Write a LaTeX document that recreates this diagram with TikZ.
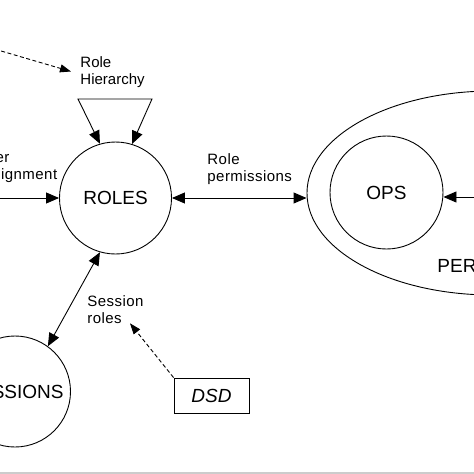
\documentclass[tikz,border=0pt]{standalone}
\usepackage{fontspec}
\setmainfont{Liberation Sans}
\usetikzlibrary{arrows.meta,shapes.geometric}
\begin{document}
\begin{tikzpicture}[x=1pt,y=-1pt,
  line width=0.9pt,
  tip/.style={-{Triangle[length=13pt,width=11pt]}},
  dtip/.style={{Triangle[length=13pt,width=11pt]}-{Triangle[length=13pt,width=11pt]}},
  dashtip/.style={dash pattern=on 4pt off 2.5pt, -{Triangle[length=11pt,width=8pt]}},
  big/.style={font=\fontsize{19}{22}\selectfont},
  lbl/.style={font=\fontsize{15}{17}\selectfont, align=left, anchor=north west, inner sep=0pt},
  wide/.style={font=\fontsize{15}{17}\selectfont\addfontfeature{LetterSpace=3}},
  ring/.style={draw, circle, minimum size=112pt, inner sep=0pt, big},
]
\useasboundingbox (0,0) rectangle (474,474);
\clip (0,0) rectangle (474,474);
\fill[gray!40] (0,472) rectangle (474,474);

\node[ring] (roles) at (115.5,198) {ROLES};
\node[ring, minimum size=113pt] (ops) at (386.5,192.5) {OPS};
\node[ring, minimum size=111pt] (sessions) at (15,391.5) {SESSIONS};
\node[draw, ellipse, minimum width=370pt, minimum height=204pt, inner sep=0pt] (perm) at (492,193) {};
\node[big, anchor=west, inner sep=0pt] (permtxt) at (437,265.5) {PERMISSIONS};
\node[draw, big, minimum width=75pt, minimum height=35pt, inner sep=0pt] (dsd) at (211.5,395.5) {\itshape DSD};

\node[lbl] (rh) at (80,56.5) {Role\\Hierarchy};
\node[lbl, wide] (ua) at (-24,152) {User\\assignment};
\node[lbl, wide] (rp) at (207,153.3) {Role\\permissions};
\node[lbl, wide] (sr) at (87,294.7) {Session\\roles};

\coordinate (lin) at (-5,198);
\coordinate (rin) at (480,197);
\coordinate (hl) at (78,99);
\coordinate (hr) at (152,99);
\coordinate (d1) at (-5,49.2);
\coordinate (d1e) at (71,71.5);
\coordinate (d2e) at (130,323.3);

\draw[tip] (lin) -- (roles.west);
\draw[tip] (rin) -- (ops.east |- rin);
\draw[dtip] (roles.east) -- (perm.west |- roles.east);
\draw[dtip] (roles.106) -- (hl) -- (hr) -- (roles.73);
\draw[dtip] (roles.254) -- (sessions.54);
\draw[dashtip] (d1) -- (d1e);
\draw[dashtip] (dsd.north west) -- (d2e);
\end{tikzpicture}
\end{document}
